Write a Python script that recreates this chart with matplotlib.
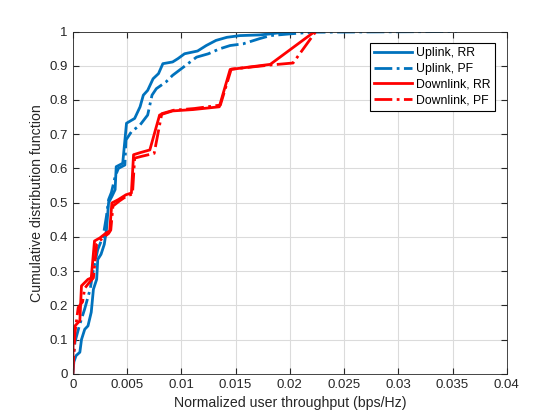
import matplotlib
matplotlib.use("Agg")
import matplotlib.pyplot as plt

plt.rcParams['font.family'] = ['Liberation Sans', 'DejaVu Sans']

ul_rr_x = [0, 0.0001, 0.0003, 0.00065, 0.0008, 0.0011, 0.0014, 0.0017, 0.0019, 0.0022, 0.0023,
           0.0026, 0.0029, 0.0031, 0.0033, 0.0036, 0.0039, 0.0040, 0.0046, 0.00495, 0.0057, 0.0062,
           0.0065, 0.0069, 0.0074, 0.0079, 0.0083, 0.0092, 0.0097, 0.0103, 0.0115, 0.0123, 0.0132,
           0.0142, 0.0154, 0.0172, 0.0182, 0.0200]
ul_rr_y = [0, 0.035, 0.053, 0.063, 0.10, 0.13, 0.14, 0.18, 0.247, 0.276, 0.334,
           0.349, 0.378, 0.42, 0.50, 0.518, 0.538, 0.605, 0.615, 0.732, 0.746, 0.78,
           0.814, 0.828, 0.862, 0.877, 0.906, 0.911, 0.921, 0.935, 0.943, 0.959, 0.974,
           0.983, 0.988, 0.99, 0.993, 1.0]

ul_pf_x = [0, 0.00003, 0.0002, 0.0006, 0.0011, 0.0016, 0.0019, 0.0023, 0.0028, 0.0031, 0.0033,
           0.00356, 0.0039, 0.0042, 0.0048, 0.0049, 0.0054, 0.0062, 0.0069, 0.0073, 0.0077, 0.0086,
           0.0092, 0.0102, 0.0114, 0.0125, 0.0135, 0.0145, 0.0157, 0.0172, 0.0182, 0.0200, 0.0221,
           0.0354]
ul_pf_y = [0, 0.034, 0.093, 0.14, 0.19, 0.247, 0.305, 0.363, 0.402, 0.46, 0.509,
           0.53, 0.576, 0.60, 0.61, 0.683, 0.707, 0.727, 0.756, 0.814, 0.833, 0.853,
           0.872, 0.896, 0.925, 0.935, 0.949, 0.959, 0.964, 0.979, 0.988, 0.993, 0.998,
           1.0]

dl_rr_x = [0, 0.00003, 0.0002, 0.00065, 0.0008, 0.0014, 0.0017, 0.0020, 0.0025, 0.0031, 0.0034,
           0.0036, 0.0042, 0.0049, 0.0054, 0.0056, 0.0062, 0.0071, 0.0080, 0.0092, 0.0111, 0.0135,
           0.0145, 0.0182, 0.0223]
dl_rr_y = [0, 0.092, 0.14, 0.155, 0.257, 0.276, 0.28, 0.388, 0.397, 0.412, 0.417,
           0.499, 0.509, 0.523, 0.528, 0.64, 0.646, 0.654, 0.756, 0.768, 0.772, 0.78,
           0.889, 0.904, 1.0]

dl_pf_x = [0, 0.0002, 0.0005, 0.0009, 0.0011, 0.0016, 0.0019, 0.0022, 0.0027, 0.0033, 0.0035,
           0.0037, 0.0043, 0.0050, 0.0055, 0.0057, 0.0063, 0.0075, 0.0082, 0.0093, 0.0112, 0.0136,
           0.0146, 0.0182, 0.0203, 0.0224]
dl_pf_y = [0, 0.12, 0.194, 0.21, 0.25, 0.27, 0.28, 0.38, 0.395, 0.41, 0.42,
           0.49, 0.505, 0.52, 0.525, 0.63, 0.635, 0.644, 0.76, 0.77, 0.775, 0.785,
           0.89, 0.902, 0.908, 1.0]

labels = ['Uplink, RR', 'Uplink, PF', 'Downlink, RR', 'Downlink, PF']
xticks = [0, 0.005, 0.01, 0.015, 0.02, 0.025, 0.03, 0.035, 0.04]
xticklabels = ['0', '0.005', '0.01', '0.015', '0.02', '0.025', '0.03', '0.035', '0.04']
yticks = [0, 0.1, 0.2, 0.3, 0.4, 0.5, 0.6, 0.7, 0.8, 0.9, 1]
yticklabels = ['0', '0.1', '0.2', '0.3', '0.4', '0.5', '0.6', '0.7', '0.8', '0.9', '1']

blue = '#0072BD'
red = '#FF0000'

fig = plt.figure(figsize=(5.6, 4.2), dpi=100)
ax = fig.add_axes([0.13, 0.11, 0.775, 0.815])
ax.plot(ul_rr_x, ul_rr_y, '-', color=blue, lw=2, label=labels[0])
ax.plot(ul_pf_x, ul_pf_y, '-.', color=blue, lw=2, label=labels[1])
ax.plot(dl_rr_x, dl_rr_y, '-', color=red, lw=2, label=labels[2])
ax.plot(dl_pf_x, dl_pf_y, '-.', color=red, lw=2, label=labels[3])

ax.set_xlim(0, 0.04)
ax.set_ylim(0, 1)
ax.set_xticks(xticks)
ax.set_xticklabels(xticklabels)
ax.set_yticks(yticks)
ax.set_yticklabels(yticklabels)
ax.grid(True, color='#DBDBDB', lw=0.8)
ax.set_axisbelow(True)
ax.tick_params(direction='in', top=True, right=True, labelsize=9.5, colors='#262626', length=4)
for s in ax.spines.values():
    s.set_color('#262626')
    s.set_linewidth(0.6)
ax.set_xlabel('Normalized user throughput (bps/Hz)', fontsize=10.2, color='#262626')
ax.set_ylabel('Cumulative distribution function', fontsize=10.2, color='#262626')
leg = ax.legend(loc='upper right', fontsize=8.8, fancybox=False, framealpha=1,
                edgecolor='black', handlelength=3.1, borderaxespad=0.95,
                handletextpad=0.35, labelspacing=0.3, borderpad=0.35)
leg.get_frame().set_linewidth(0.8)

fig.savefig('out.png', dpi=100)
